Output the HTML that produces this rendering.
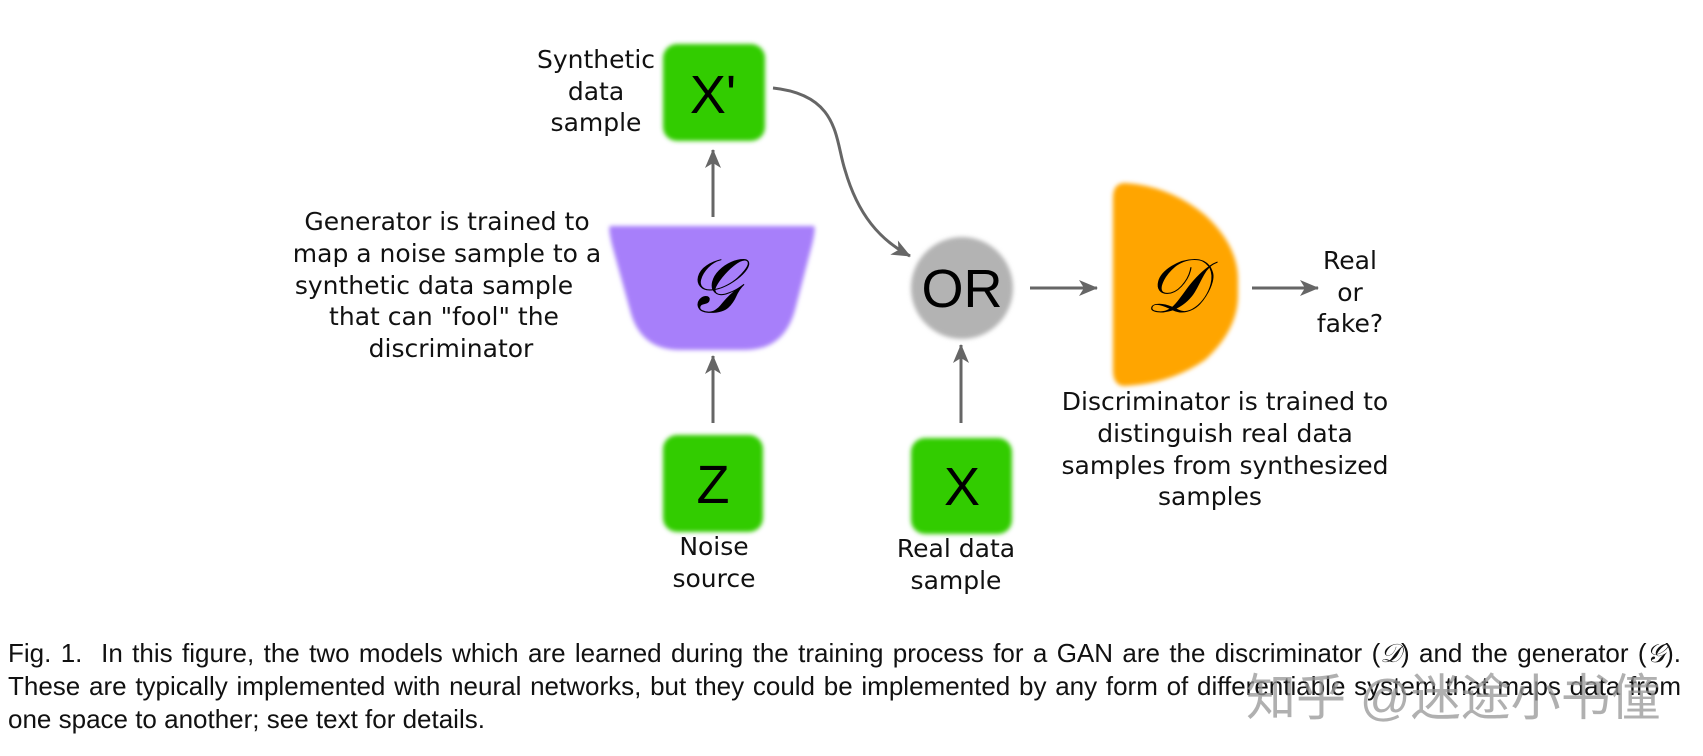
<!DOCTYPE html>
<html><head><meta charset="utf-8"><style>
html,body{margin:0;padding:0;background:#fff;}
body{width:1703px;height:756px;overflow:hidden;position:relative;}
svg{position:absolute;left:0;top:0;}
.cap{position:absolute;left:8px;font-family:"Liberation Sans",sans-serif;font-size:26px;color:#111;white-space:nowrap;}
.j{width:1673px;text-align:justify;text-align-last:justify;white-space:normal;}
</style></head><body>
<svg width="1703" height="756" viewBox="0 0 1703 756">
<defs>
<filter id="b" x="-10%" y="-10%" width="120%" height="120%"><feGaussianBlur stdDeviation="2"/></filter>
<marker id="ah2" markerWidth="24" markerHeight="24" refX="18" refY="8" orient="auto" markerUnits="userSpaceOnUse">
<path d="M0,0 L19,8 L0,16 L5,8 Z" fill="#666"/></marker>
</defs>
<g filter="url(#b)">
<rect x="663" y="44" width="102" height="97" rx="14" fill="#33cc00"/>
<rect x="663" y="435" width="100" height="97" rx="14" fill="#33cc00"/>
<rect x="911" y="438" width="101" height="96" rx="14" fill="#33cc00"/>
<path d="M610,226 L814,226 Q816,228 812,245 L795,310 Q784,350 745,350 L680,350 Q640,350 630,310 L612,245 Q608,228 610,226 Z" fill="#a77ffa"/>
<circle cx="962" cy="288" r="51" fill="#b3b3b3"/>
<path d="M1125,183 Q1170,186 1205,215 Q1238,245 1238,280 L1238,295 Q1238,330 1205,360 Q1170,384 1125,386 Q1113,386 1113,370 L1113,198 Q1113,183 1125,183 Z" fill="#ffa500"/>
</g>
<g stroke="#666" stroke-width="3" fill="none">
<line x1="713" y1="217" x2="713" y2="150" marker-end="url(#ah2)"/>
<line x1="713" y1="423" x2="713" y2="356" marker-end="url(#ah2)"/>
<line x1="961" y1="423" x2="961" y2="345" marker-end="url(#ah2)"/>
<line x1="1030" y1="288" x2="1097" y2="288" marker-end="url(#ah2)"/>
<line x1="1252" y1="288" x2="1318" y2="288" marker-end="url(#ah2)"/>
<path d="M773,88 C840,95 835,140 845,170 C858,215 880,240 910,256" marker-end="url(#ah2)"/>
</g>
<g font-family="Liberation Sans, DejaVu Sans, sans-serif" fill="#000">
<text x="713" y="113" font-size="54" text-anchor="middle">X'</text>
<text x="713" y="503" font-size="54" text-anchor="middle">Z</text>
<text x="962" y="505" font-size="54" text-anchor="middle">X</text>
<text x="962" y="307" font-size="54" text-anchor="middle">OR</text>
</g>
<g font-family="Liberation Serif, serif" font-style="italic" fill="#000">
<text x="712" y="312" font-size="76" text-anchor="middle">𝒢</text>
<text x="1175" y="312" font-size="76" text-anchor="middle">𝒟</text>
</g>
<g font-family="DejaVu Sans, sans-serif" font-size="25" fill="#111" text-anchor="middle">
<text x="596" y="68">Synthetic</text><text x="596" y="100">data</text><text x="596" y="131">sample</text>
<text x="447" y="230">Generator is trained to</text>
<text x="447" y="262">map a noise sample to a</text>
<text x="434" y="294">synthetic data sample</text>
<text x="444" y="325">that can "fool" the</text>
<text x="451" y="357">discriminator</text>
<text x="714" y="555">Noise</text><text x="714" y="587">source</text>
<text x="956" y="557">Real data</text><text x="956" y="589">sample</text>
<text x="1350" y="269">Real</text><text x="1350" y="301">or</text><text x="1350" y="332">fake?</text>
<text x="1225" y="410">Discriminator is trained to</text>
<text x="1225" y="442">distinguish real data</text>
<text x="1225" y="474">samples from synthesized</text>
<text x="1210" y="505">samples</text>
</g>
</svg>
<div class="cap j" style="top:638px">Fig. 1.&nbsp; In this figure, the two models which are learned during the training process for a GAN are the discriminator (<i style="font-family:'Liberation Serif',serif">𝒟</i>) and the generator (<i style="font-family:'Liberation Serif',serif">𝒢</i>).</div>
<div class="cap j" style="top:671px">These are typically implemented with neural networks, but they could be implemented by any form of differentiable system that maps data from</div>
<div class="cap" style="top:704px">one space to another; see text for details.</div>
<div style="position:absolute;left:1246px;top:658px;font-family:'Liberation Sans','Noto Sans CJK SC',sans-serif;font-size:50px;color:rgba(150,150,150,0.75);white-space:nowrap;">知乎 @迷途小书僮</div>
</body></html>
